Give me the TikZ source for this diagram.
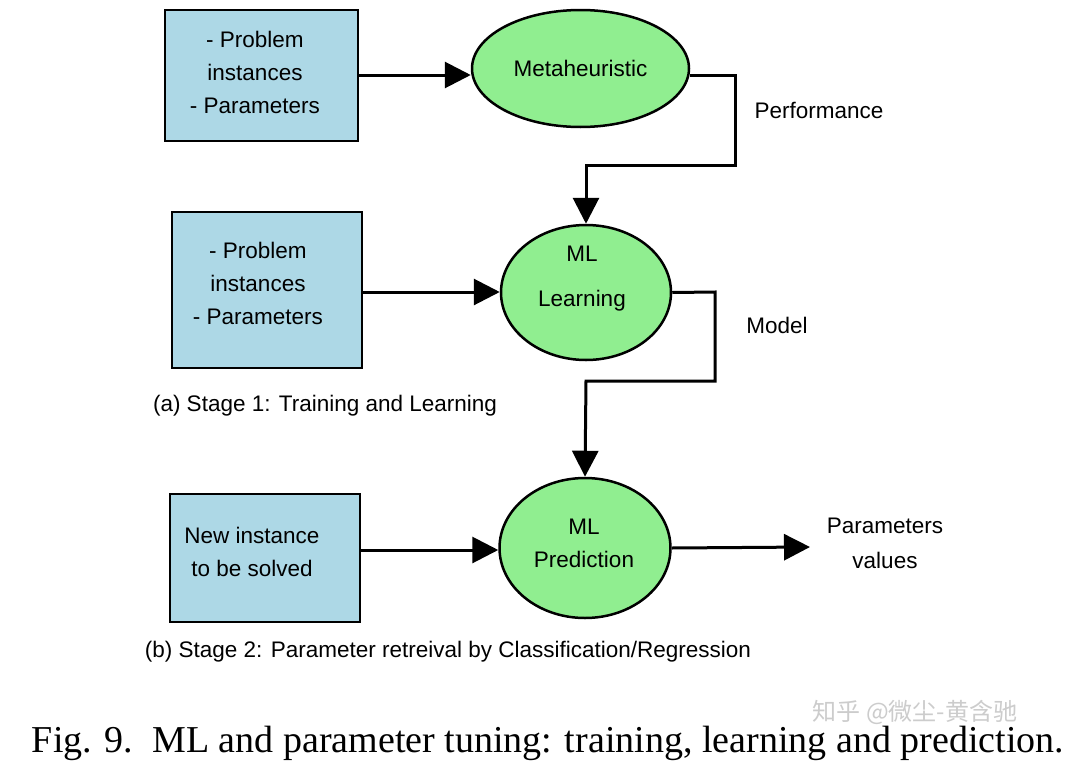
\documentclass[tikz,border=0pt]{standalone}
\usepackage{fontspec}
\setmainfont{Liberation Sans}
\newfontfamily\capfont{Liberation Serif}
\newfontfamily\cjk{Noto Sans CJK SC}
\usetikzlibrary{shapes.geometric,arrows.meta}
\definecolor{boxblue}{RGB}{173,216,230}
\definecolor{elgreen}{RGB}{144,238,144}
\begin{document}
\begin{tikzpicture}[x=1pt,y=-1pt,
  box/.style={draw,line width=2.5pt,fill=boxblue,align=center,font=\fontsize{22.5}{33}\selectfont},
  ell/.style={draw,line width=2.5pt,fill=elgreen,ellipse,inner sep=0pt,align=center,font=\fontsize{22.5}{33}\selectfont},
  arr/.style={line width=3pt,-{Triangle[length=26pt,width=26pt]}},
  lbl/.style={font=\fontsize{22.5}{35}\selectfont,align=center}]
\useasboundingbox (0,0) rectangle (1080,766);
\fill[white] (0,0) rectangle (1080,766);
\node[box,minimum width=193pt,minimum height=131pt] (b1) at (261.5,75.5) {};
\node[font=\fontsize{22.5}{33}\selectfont,align=center] at (255,72) {- Problem\\instances\\- Parameters};
\node[ell,minimum width=217pt,minimum height=117pt] (e1) at (580.5,68.5) {Metaheuristic};
\node[box,minimum width=190pt,minimum height=156pt] (b2) at (267,290) {};
\node[font=\fontsize{22.5}{33}\selectfont,align=center] at (258,283) {- Problem\\instances\\- Parameters};
\node[ell,minimum width=170pt,minimum height=135pt] (e2) at (586,292.5) {};
\node[font=\fontsize{22.5}{45}\selectfont,align=center] at (582,279) {ML\\Learning};
\node[box,minimum width=190pt,minimum height=128pt] (b3) at (265,558) {};
\node[font=\fontsize{22.5}{33}\selectfont,align=center] at (252,552) {New instance\\to be solved};
\node[ell,minimum width=171pt,minimum height=140pt] (e3) at (585,548) {};
\node[font=\fontsize{22.5}{33}\selectfont,align=center] at (584,543) {ML\\Prediction};
\coordinate (p) at (810,547);
\node[lbl] at (819,110) {Performance};
\node[lbl] at (777,325) {Model};
\node[lbl] at (885,543) {Parameters\\values};
\node[lbl] at (325,406) {(a) Stage 1: Training and Learning};
\node[lbl] at (448,652) {(b) Stage 2: Parameter retreival by Classification/Regression};
\draw[arr] (b1.east |- 0,75) -- (e1.west |- 0,75);
\draw[arr] (b2.east |- 0,292) -- (e2.west |- 0,292);
\draw[arr] (b3.east |- 0,550) -- (e3.west |- 0,550);
\draw[arr] (e3.east) -- (p);
\draw[arr] (e1.east |- 0,75) -- (735,75) -- (735,165) -- (586,165) -- (e2.north);
\draw[arr] (e2.east) -- (715,292) -- (715,381) -- (586,381) -- (e3.north);
\node[font=\capfont\fontsize{38}{44}\selectfont] at (548,743) {Fig. 9.\ \ ML and parameter tuning: training, learning and prediction.};
\node[font=\cjk\fontsize{24}{30}\selectfont,text=gray!40] at (915,712) {知乎 @微尘-黄含驰};
\end{tikzpicture}
\end{document}
